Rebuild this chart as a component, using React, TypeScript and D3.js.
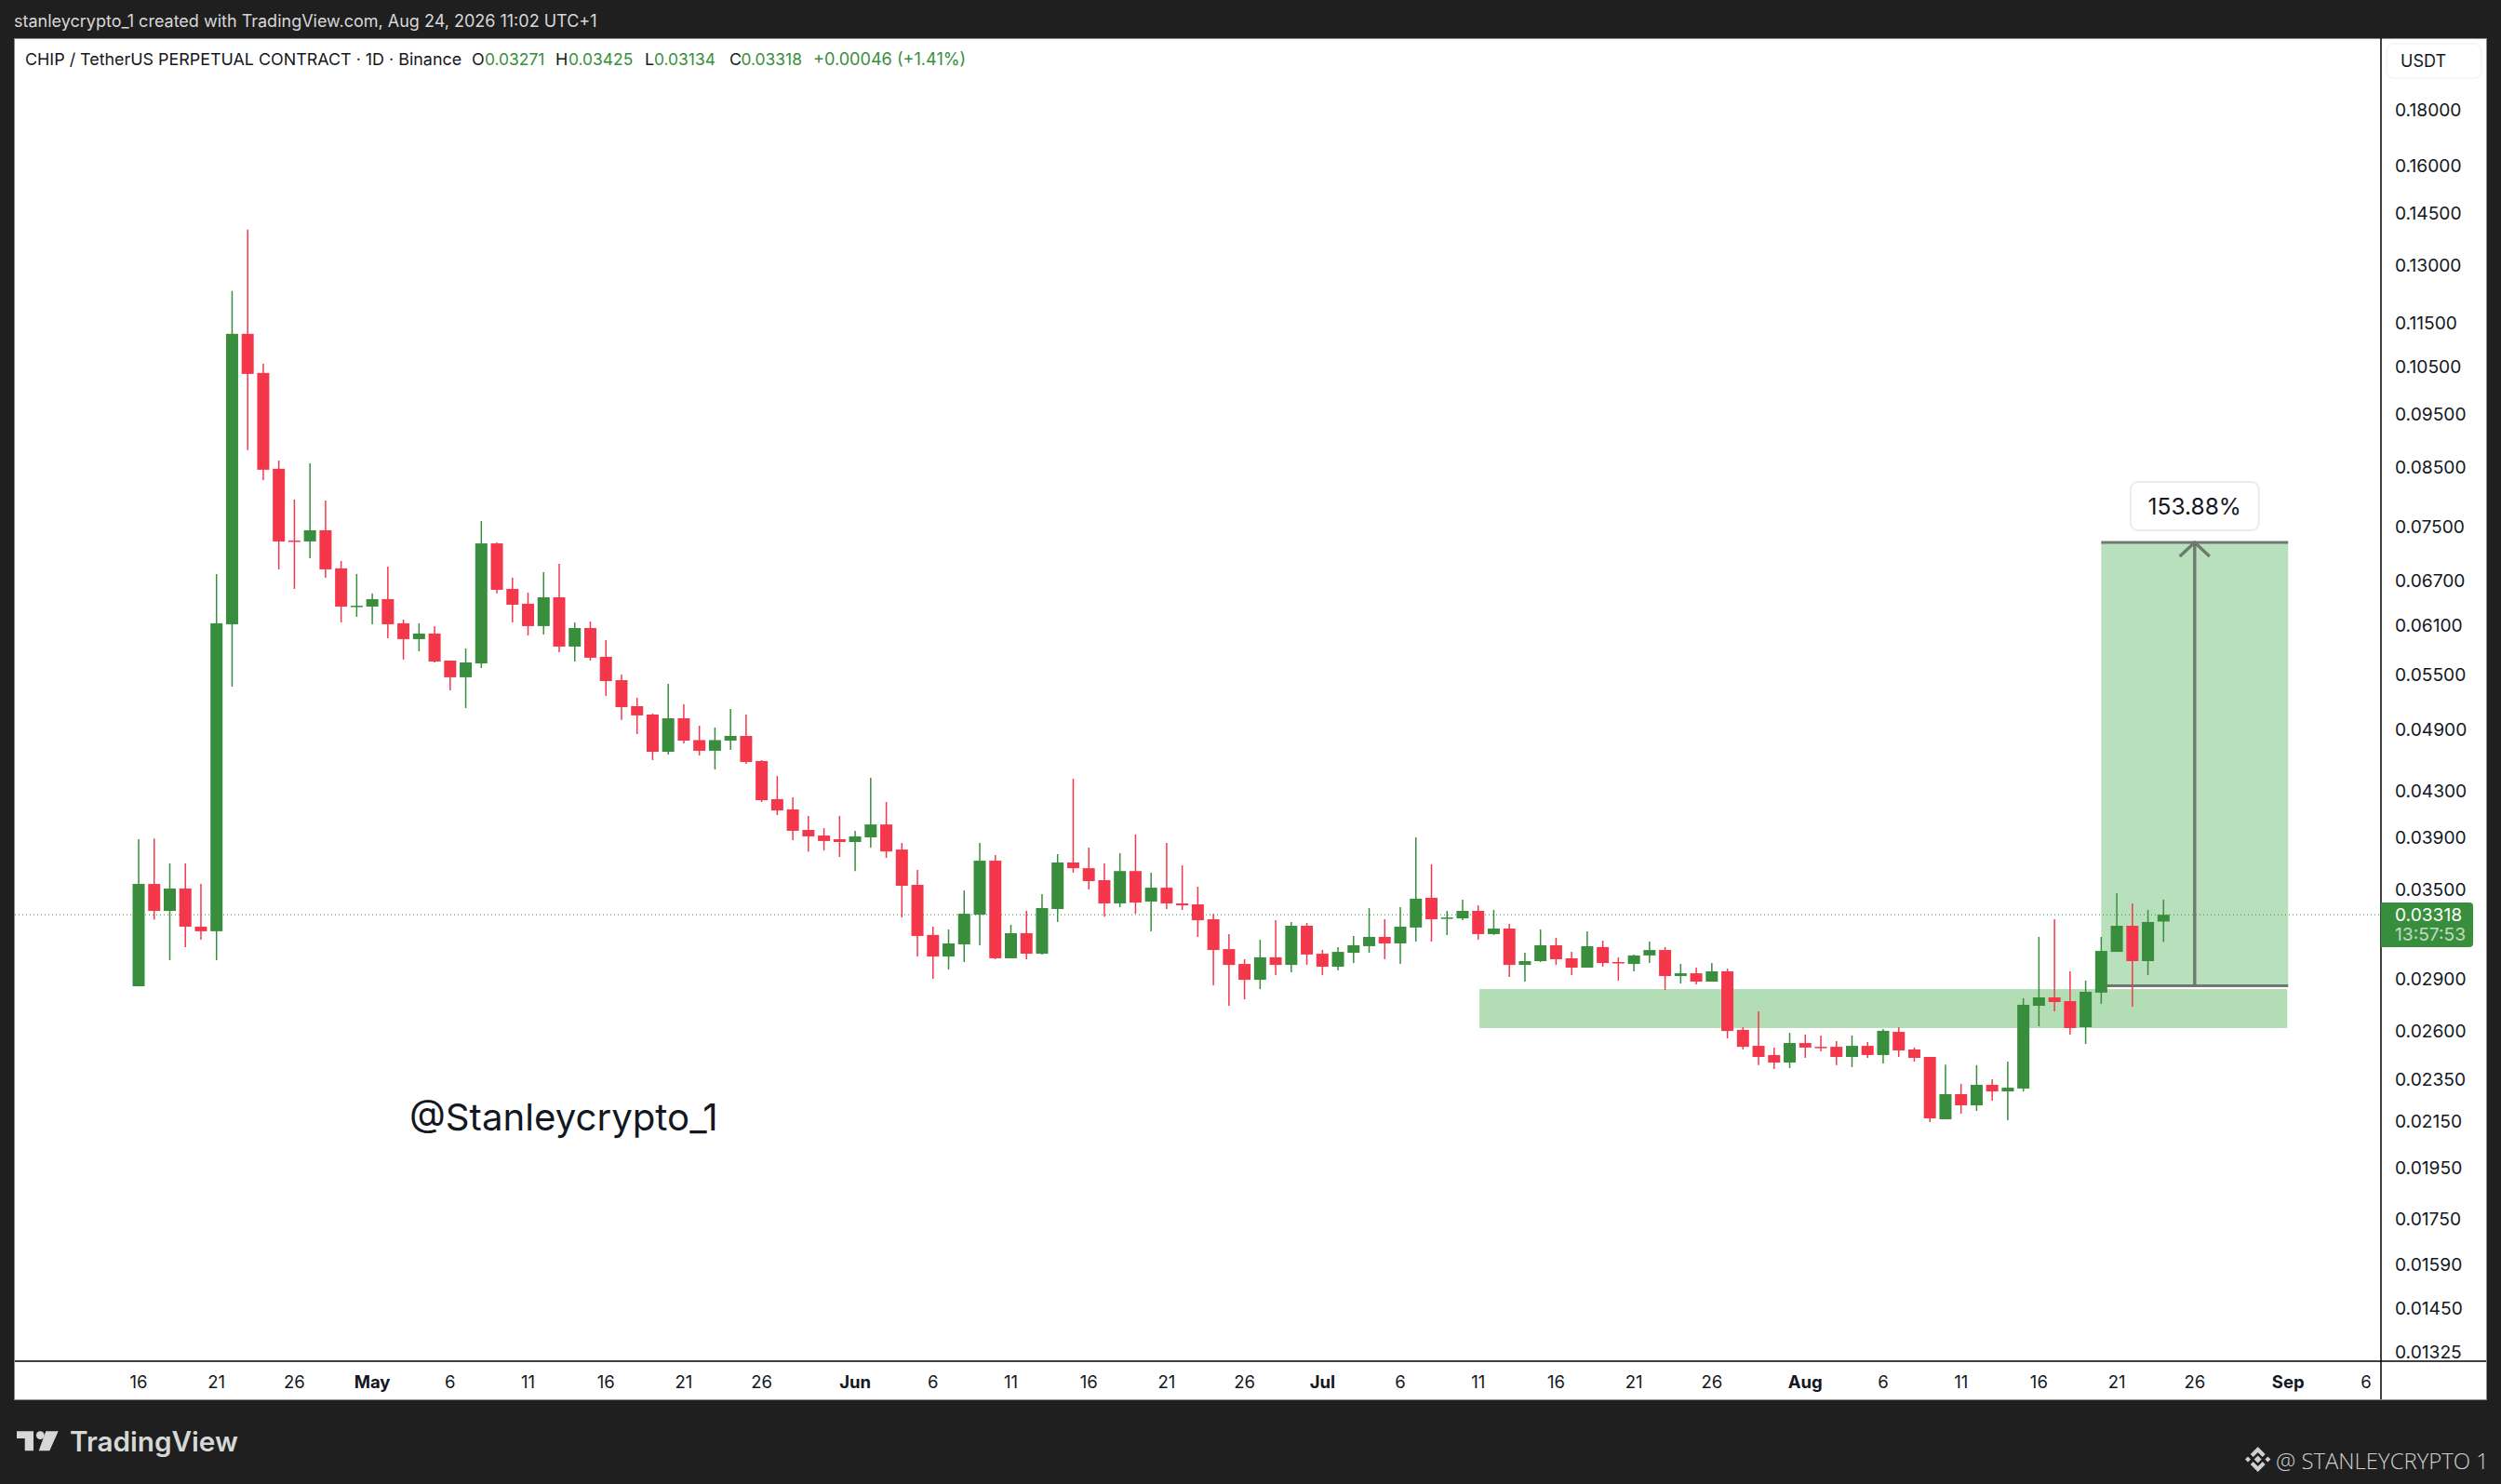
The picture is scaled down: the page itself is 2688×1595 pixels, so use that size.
// CHIP / USDT daily candles, TradingView snapshot look
import * as d3 from "d3";

const firstDay = "2026-04-16";

const opens = [
  0.02855, 0.0354, 0.03345, 0.03506, 0.03236, 0.03205, 0.06109, 0.11245, 0.10358, 0.08469, 0.07284,
  0.0727, 0.07443, 0.0687, 0.0634, 0.0634, 0.0644, 0.06121, 0.05921, 0.05991, 0.0566, 0.05465,
  0.05627, 0.0724, 0.0658, 0.06378, 0.06085, 0.06465, 0.05829, 0.06061, 0.05705, 0.05432, 0.05143,
  0.05053, 0.04673, 0.05014, 0.04789, 0.04683, 0.04784, 0.04831, 0.04583, 0.0423, 0.0414, 0.03965,
  0.03919, 0.03889, 0.03866, 0.03904, 0.04011, 0.03805, 0.03533, 0.0318, 0.03039, 0.03118, 0.03318,
  0.03717, 0.03028, 0.03192, 0.03057, 0.03358, 0.03703, 0.03659, 0.03568, 0.03398, 0.03637, 0.03411,
  0.03512, 0.03398, 0.03391, 0.03287, 0.03087, 0.02992, 0.02894, 0.03034, 0.02986, 0.03242, 0.03057,
  0.02975, 0.03063, 0.03106, 0.03167, 0.03124, 0.0323, 0.03438, 0.03293, 0.03293, 0.03345, 0.03186,
  0.03223, 0.02986, 0.0301, 0.03112, 0.03028, 0.02969, 0.031, 0.03004, 0.02992, 0.03046, 0.03081,
  0.02917, 0.02934, 0.02883, 0.02946, 0.02605, 0.02519, 0.02471, 0.02432, 0.02534, 0.02514, 0.02514,
  0.02461, 0.02519, 0.02471, 0.02594, 0.025, 0.02461, 0.02159, 0.02276, 0.02223, 0.02321, 0.02289,
  0.02303, 0.0274, 0.02789, 0.02767, 0.0262, 0.02817, 0.03069, 0.03242, 0.0301, 0.03271,
];
const highs = [
  0.03889, 0.03894, 0.03696, 0.03696, 0.0354, 0.0679, 0.12303, 0.13998, 0.10562, 0.08618, 0.07939,
  0.08568, 0.07923, 0.06977, 0.0679, 0.06517, 0.06897, 0.06169, 0.06121, 0.06085, 0.0566, 0.05806,
  0.0759, 0.07254, 0.06737, 0.06529, 0.06816, 0.06935, 0.06133, 0.06145, 0.05909, 0.05496, 0.05235,
  0.05064, 0.05391, 0.05163, 0.04936, 0.04917, 0.05113, 0.05053, 0.04592, 0.04442, 0.04246, 0.04084,
  0.03981, 0.04084, 0.03958, 0.04425, 0.04205, 0.03858, 0.03645, 0.03236, 0.03217, 0.03492, 0.03858,
  0.03761, 0.03249, 0.03345, 0.03465, 0.03769, 0.04416, 0.03821, 0.03696, 0.03776, 0.03927, 0.03625,
  0.03858, 0.03681, 0.03519, 0.03325, 0.03186, 0.03022, 0.03148, 0.0328, 0.03268, 0.03261, 0.03081,
  0.031, 0.03173, 0.03365, 0.03287, 0.03371, 0.03904, 0.03689, 0.03345, 0.03425, 0.03384, 0.03352,
  0.03255, 0.03063, 0.03217, 0.03161, 0.03069, 0.03205, 0.03142, 0.03034, 0.03052, 0.03136, 0.031,
  0.02992, 0.02969, 0.02998, 0.02963, 0.0262, 0.02709, 0.0251, 0.02589, 0.02579, 0.02574, 0.02544,
  0.02574, 0.02539, 0.0261, 0.0262, 0.0251, 0.02461, 0.02422, 0.02325, 0.02419, 0.02348, 0.02437,
  0.02784, 0.03167, 0.03287, 0.02946, 0.02889, 0.03167, 0.03472, 0.03398, 0.03352, 0.03425,
];
const lows = [
  0.02855, 0.03284, 0.03016, 0.031, 0.03148, 0.03016, 0.05359, 0.08807, 0.08272, 0.06856, 0.0658,
  0.07019, 0.06737, 0.06133, 0.06205, 0.06109, 0.05932, 0.05672, 0.05772, 0.05638, 0.05317, 0.05123,
  0.05573, 0.06517, 0.06133, 0.05967, 0.05979, 0.05761, 0.05649, 0.0566, 0.05255, 0.04997, 0.0485,
  0.04592, 0.04646, 0.04756, 0.04637, 0.04503, 0.04692, 0.04556, 0.04205, 0.04091, 0.03881, 0.0379,
  0.03798, 0.03747, 0.03637, 0.03821, 0.03739, 0.03299, 0.03039, 0.029, 0.02957, 0.03004, 0.03112,
  0.03022, 0.03028, 0.03022, 0.03052, 0.03268, 0.03625, 0.03499, 0.03305, 0.03371, 0.03325, 0.03205,
  0.03358, 0.03352, 0.03167, 0.02861, 0.0274, 0.02778, 0.02838, 0.02923, 0.0294, 0.02986, 0.02923,
  0.02951, 0.02998, 0.03063, 0.03022, 0.02992, 0.03136, 0.03136, 0.0318, 0.0328, 0.03148, 0.0318,
  0.02912, 0.02883, 0.03004, 0.02986, 0.02923, 0.02969, 0.02975, 0.02889, 0.02946, 0.02998, 0.02833,
  0.02872, 0.02866, 0.02883, 0.02559, 0.025, 0.02419, 0.02399, 0.02404, 0.02456, 0.0249, 0.02419,
  0.02409, 0.02456, 0.02427, 0.02461, 0.02437, 0.02146, 0.02159, 0.02184, 0.02197, 0.02245, 0.02155,
  0.02289, 0.02625, 0.02709, 0.02579, 0.02529, 0.02751, 0.03069, 0.02735, 0.02923, 0.03134,
];
const closes = [
  0.0354, 0.03345, 0.03506, 0.03236, 0.03205, 0.06121, 0.11245, 0.10337, 0.08452, 0.0727, 0.0727,
  0.07443, 0.06856, 0.0634, 0.06352, 0.0644, 0.06109, 0.05921, 0.05991, 0.05649, 0.05465, 0.05638,
  0.0724, 0.06567, 0.06365, 0.06085, 0.06465, 0.05829, 0.06061, 0.05694, 0.05421, 0.05133, 0.05044,
  0.04673, 0.05014, 0.04784, 0.04683, 0.04789, 0.04831, 0.04574, 0.04221, 0.04131, 0.03958, 0.03912,
  0.03874, 0.03866, 0.03912, 0.04011, 0.0379, 0.03526, 0.03173, 0.03039, 0.03124, 0.03325, 0.03717,
  0.03028, 0.03192, 0.03057, 0.03365, 0.03703, 0.03659, 0.03561, 0.03398, 0.03637, 0.03404, 0.03512,
  0.03398, 0.03384, 0.0328, 0.03081, 0.02986, 0.02894, 0.03034, 0.02986, 0.03242, 0.03052, 0.02975,
  0.03069, 0.03112, 0.03167, 0.03124, 0.03236, 0.03432, 0.03287, 0.03299, 0.03345, 0.03186, 0.03223,
  0.02986, 0.0301, 0.03112, 0.03022, 0.02969, 0.03106, 0.02998, 0.02998, 0.03046, 0.03081, 0.02917,
  0.02934, 0.02883, 0.02946, 0.02599, 0.02514, 0.02461, 0.02432, 0.02534, 0.0251, 0.0251, 0.02461,
  0.02519, 0.02471, 0.026, 0.02495, 0.02456, 0.02163, 0.02276, 0.02223, 0.02321, 0.02289, 0.02307,
  0.02746, 0.02789, 0.02762, 0.02615, 0.02822, 0.03075, 0.03242, 0.0301, 0.03268, 0.03318,
];

const priceTicks = [
  0.18, 0.16, 0.145, 0.13, 0.115, 0.105, 0.095, 0.085, 0.075, 0.067, 0.061, 0.055, 0.049, 0.043,
  0.039, 0.035, 0.029, 0.026, 0.0235, 0.0215, 0.0195, 0.0175, 0.0159, 0.0145, 0.01325,
];
const timeTicks: [string, string, boolean][] = [
  ["2026-04-16", "16", false], ["2026-04-21", "21", false], ["2026-04-26", "26", false],
  ["2026-05-01", "May", true], ["2026-05-06", "6", false], ["2026-05-11", "11", false],
  ["2026-05-16", "16", false], ["2026-05-21", "21", false], ["2026-05-26", "26", false],
  ["2026-06-01", "Jun", true], ["2026-06-06", "6", false], ["2026-06-11", "11", false],
  ["2026-06-16", "16", false], ["2026-06-21", "21", false], ["2026-06-26", "26", false],
  ["2026-07-01", "Jul", true], ["2026-07-06", "6", false], ["2026-07-11", "11", false],
  ["2026-07-16", "16", false], ["2026-07-21", "21", false], ["2026-07-26", "26", false],
  ["2026-08-01", "Aug", true], ["2026-08-06", "6", false], ["2026-08-11", "11", false],
  ["2026-08-16", "16", false], ["2026-08-21", "21", false], ["2026-08-26", "26", false],
  ["2026-09-01", "Sep", true], ["2026-09-06", "6", false],
];

const lastPrice = 0.03318;
const zonePrices = [0.02838, 0.02615];
const zoneDates = ["2026-07-11", "2026-09-01"];
const measurePrices = [0.02858, 0.07255];
const measureDates = ["2026-08-20", "2026-09-01"];

const FONT = "Inter, 'Noto Sans', sans-serif";
const GREEN = "#388e3c";
const RED = "#f5374b";
const DARK = "#1f1f1f";
const WIDTH = 2672;
const PLOT_RIGHT = 2559;
const PLOT_BOTTOM = 1463;

const day = (s: string) => new Date(s + "T00:00:00Z");
const x = d3
  .scaleUtc()
  .domain([day(firstDay), day("2026-08-24")])
  .range([149, 2325.3]);
const y = d3.scaleLog().domain([0.18, 0.01325]).range([118.2, 1452.7]);
const dayAt = (i: number) => d3.utcDay.offset(day(firstDay), i);

function Legend() {
  const pairs: [string, number, string, number][] = [
    ["O", 507, "0.03271", 521],
    ["H", 597, "0.03425", 611],
    ["L", 693, "0.03134", 703],
    ["C", 784, "0.03318", 796.5],
  ];
  return (
    <g fontSize={17.9} fontFamily={FONT}>
      <text x={27} y={70} fill="#131722">
        CHIP / TetherUS PERPETUAL CONTRACT · 1D · Binance
      </text>
      {pairs.map(([k, kx, v, vx]) => (
        <g key={k}>
          <text x={kx} y={70} fill="#131722">{k}</text>
          <text x={vx} y={70} fontSize={17.4} fill={GREEN}>{v}</text>
        </g>
      ))}
      <text x={874} y={70} fontSize={18.1} fill={GREEN}>+0.00046 (+1.41%)</text>
    </g>
  );
}

function Candles() {
  return (
    <g>
      {closes.map((c, i) => {
        const o = opens[i];
        const color = c >= o ? GREEN : RED;
        const cx = x(dayAt(i));
        const top = y(Math.max(o, c));
        const bot = y(Math.min(o, c));
        return (
          <g key={i}>
            <line x1={cx} x2={cx} y1={y(highs[i])} y2={y(lows[i])} stroke={color} strokeWidth={1.5} />
            <rect x={cx - 6.5} width={13} y={top} height={Math.max(bot - top, 1.5)} fill={color} />
          </g>
        );
      })}
    </g>
  );
}

function Measure() {
  const left = x(day(measureDates[0]));
  const right = x(day(measureDates[1]));
  const mid = (left + right) / 2;
  const base = y(measurePrices[0]);
  const top = y(measurePrices[1]);
  const stroke = "#6e7a6e";
  return (
    <g>
      <line x1={left} x2={right} y1={top} y2={top} stroke={stroke} strokeWidth={3} />
      <line x1={left} x2={right} y1={base} y2={base} stroke={stroke} strokeWidth={3} />
      <line x1={mid} x2={mid} y1={top} y2={base} stroke={stroke} strokeWidth={3.4} />
      <path
        d={`M${mid - 16},${top + 15}L${mid},${top}L${mid + 16},${top + 15}`}
        fill="none"
        stroke={stroke}
        strokeWidth={3.4}
      />
      <rect x={mid - 69} y={top - 65} width={138} height={52} rx={8} fill="#fff" stroke="#ececec" strokeWidth={2} />
      <text x={mid} y={top - 30} textAnchor="middle" fontSize={24.5} fontFamily={FONT} fill="#131722">
        153.88%
      </text>
    </g>
  );
}

function PriceAxis() {
  return (
    <g fontFamily={FONT} fontSize={19.2} fill="#131722">
      <rect x={2565} y={47} width={102} height={37} rx={8} fill="#fff" stroke="#f4f4f4" strokeWidth={1.5} />
      <text x={2580} y={71.5} fontSize={18}>USDT</text>
      {priceTicks.map((t) => (
        <text key={t} x={2574} y={y(t)} dy="0.36em">{t.toFixed(5)}</text>
      ))}
      <path d="M2559,970H2654a4,4 0 0 1 4,4V1014a4,4 0 0 1 -4,4H2559Z" fill={GREEN} />
      <text x={2574} y={y(lastPrice)} dy="0.36em" fill="#fff">{lastPrice.toFixed(5)}</text>
      <text x={2574} y={1004} dy="0.36em" fill="#fff" fillOpacity={0.7}>13:57:53</text>
    </g>
  );
}

function TimeAxis() {
  return (
    <g fontFamily={FONT} fontSize={18.5} fill="#131722" textAnchor="middle">
      {timeTicks.map(([d, label, bold]) => (
        <text key={d} x={x(day(d))} y={1485} dy="0.36em" fontWeight={bold ? 700 : 400}>
          {label}
        </text>
      ))}
    </g>
  );
}

function Footer() {
  const grey = "#d6d8d6";
  return (
    <g>
      <path d="M18,1538.3H36V1559.3H26.7V1546H18Z" fill={grey} />
      <circle cx={43.3} cy={1542.6} r={4.4} fill={grey} />
      <path d="M49.3,1538.3H62.7L53.3,1559.3H41.7Z" fill={grey} />
      <text x={75} y={1559.5} fontFamily={FONT} fontWeight={600} fontSize={29.7} fill={grey}>
        TradingView
      </text>
      <g fill="#d0d0d0">
        <path d="M2426.7,1555l8,8-3,3-5,-5-5,5-3,-3Z" />
        <path d="M2426.7,1582l8,-8-3,-3-5,5-5,-5-3,3Z" />
        <path d="M2426.7,1564.5l4,4-4,4-4,-4Z" />
        <path d="M2416,1565.5l3,3-3,3-3,-3Z" />
        <path d="M2437.4,1565.5l3,3-3,3-3,-3Z" />
      </g>
      <text
        x={2446}
        y={1578.5}
        fontFamily="'Open Sans', sans-serif"
        fontWeight={300}
        fontSize={24}
        textLength={229}
        lengthAdjust="spacingAndGlyphs"
        fill="#d0d0d0"
      >
        @ STANLEYCRYPTO 1
      </text>
    </g>
  );
}

export default function App() {
  const lastY = y(lastPrice);
  return (
    <svg
      width={2688}
      height={1595}
      viewBox="0 0 2688 1595"
      style={{ position: "absolute", left: 0, top: 0, display: "block" }}
    >
      <rect width={2688} height={1595} fill={DARK} />
      <text x={15} y={29} fontFamily={FONT} fontSize={18} fill="#d8d8d8">
        stanleycrypto_1 created with TradingView.com, Aug 24, 2026 11:02 UTC+1
      </text>
      <rect x={15.5} y={41.5} width={WIDTH - 15} height={1463} fill="#fff" stroke="#8a8a8a" strokeWidth={1} />

      <rect
        x={x(day(zoneDates[0])) + 1.4}
        width={x(day(zoneDates[1])) - x(day(zoneDates[0])) - 2.4}
        y={y(zonePrices[0])}
        height={y(zonePrices[1]) - y(zonePrices[0])}
        fill="#b3ddb5"
      />
      <rect
        x={x(day(measureDates[0]))}
        width={x(day(measureDates[1])) - x(day(measureDates[0]))}
        y={y(measurePrices[1])}
        height={y(measurePrices[0]) - y(measurePrices[1])}
        fill="#b9e0bc"
      />
      <line x1={16} x2={PLOT_RIGHT} y1={lastY} y2={lastY} stroke={GREEN} strokeWidth={1} strokeDasharray="1 3" />
      <Measure />
      <Candles />
      <text x={440} y={1215} fontFamily={FONT} fontSize={40.2} fill="#131722">
        @Stanleycrypto_1
      </text>
      <Legend />

      <line x1={PLOT_RIGHT} x2={PLOT_RIGHT} y1={41} y2={1504} stroke="#000" strokeWidth={1.5} />
      <line x1={16} x2={WIDTH} y1={PLOT_BOTTOM} y2={PLOT_BOTTOM} stroke="#000" strokeWidth={1.5} />
      <PriceAxis />
      <TimeAxis />
      <Footer />
    </svg>
  );
}
